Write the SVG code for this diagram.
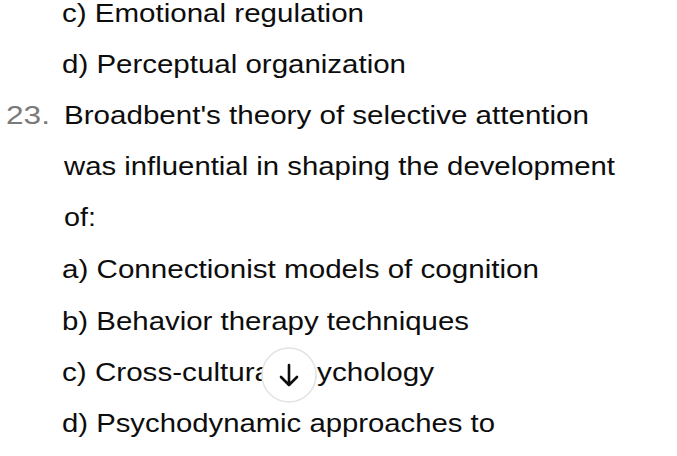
<svg xmlns="http://www.w3.org/2000/svg" width="677" height="456" viewBox="0 0 677 456">
<style>
text{font-family:"Liberation Sans",Arial,sans-serif;font-size:26px;fill:#0d0d0d}
.n{fill:#7a7a7a}
</style>
<rect width="677" height="456" fill="#fff"/>
<g id="lines">
<text x="62" y="22" textLength="302" lengthAdjust="spacingAndGlyphs">c) Emotional regulation</text>
<text x="62" y="73" textLength="344" lengthAdjust="spacingAndGlyphs">d) Perceptual organization</text>
<text class="n" x="6" y="124" textLength="44" lengthAdjust="spacingAndGlyphs">23.</text>
<text x="64" y="124" textLength="525" lengthAdjust="spacingAndGlyphs">Broadbent's theory of selective attention</text>
<text x="64" y="175" textLength="551" lengthAdjust="spacingAndGlyphs">was influential in shaping the development</text>
<text x="64" y="226" textLength="32" lengthAdjust="spacingAndGlyphs">of:</text>
<text x="62" y="278" textLength="477" lengthAdjust="spacingAndGlyphs">a) Connectionist models of cognition</text>
<text x="62" y="330" textLength="407" lengthAdjust="spacingAndGlyphs">b) Behavior therapy techniques</text>
<text x="62" y="381" textLength="372" lengthAdjust="spacingAndGlyphs">c) Cross-cultural psychology</text>
<text x="62" y="432" textLength="433" lengthAdjust="spacingAndGlyphs">d) Psychodynamic approaches to</text>
</g>
<g id="scroll-button">
<circle cx="289" cy="375" r="27" fill="#fff" stroke="#e3e3e3" stroke-width="1.5"/>
<path d="M289 365v20M281 377l8 8 8-8" fill="none" stroke="#0d0d0d" stroke-width="2.6" stroke-linecap="round" stroke-linejoin="round"/>
</g>
</svg>
